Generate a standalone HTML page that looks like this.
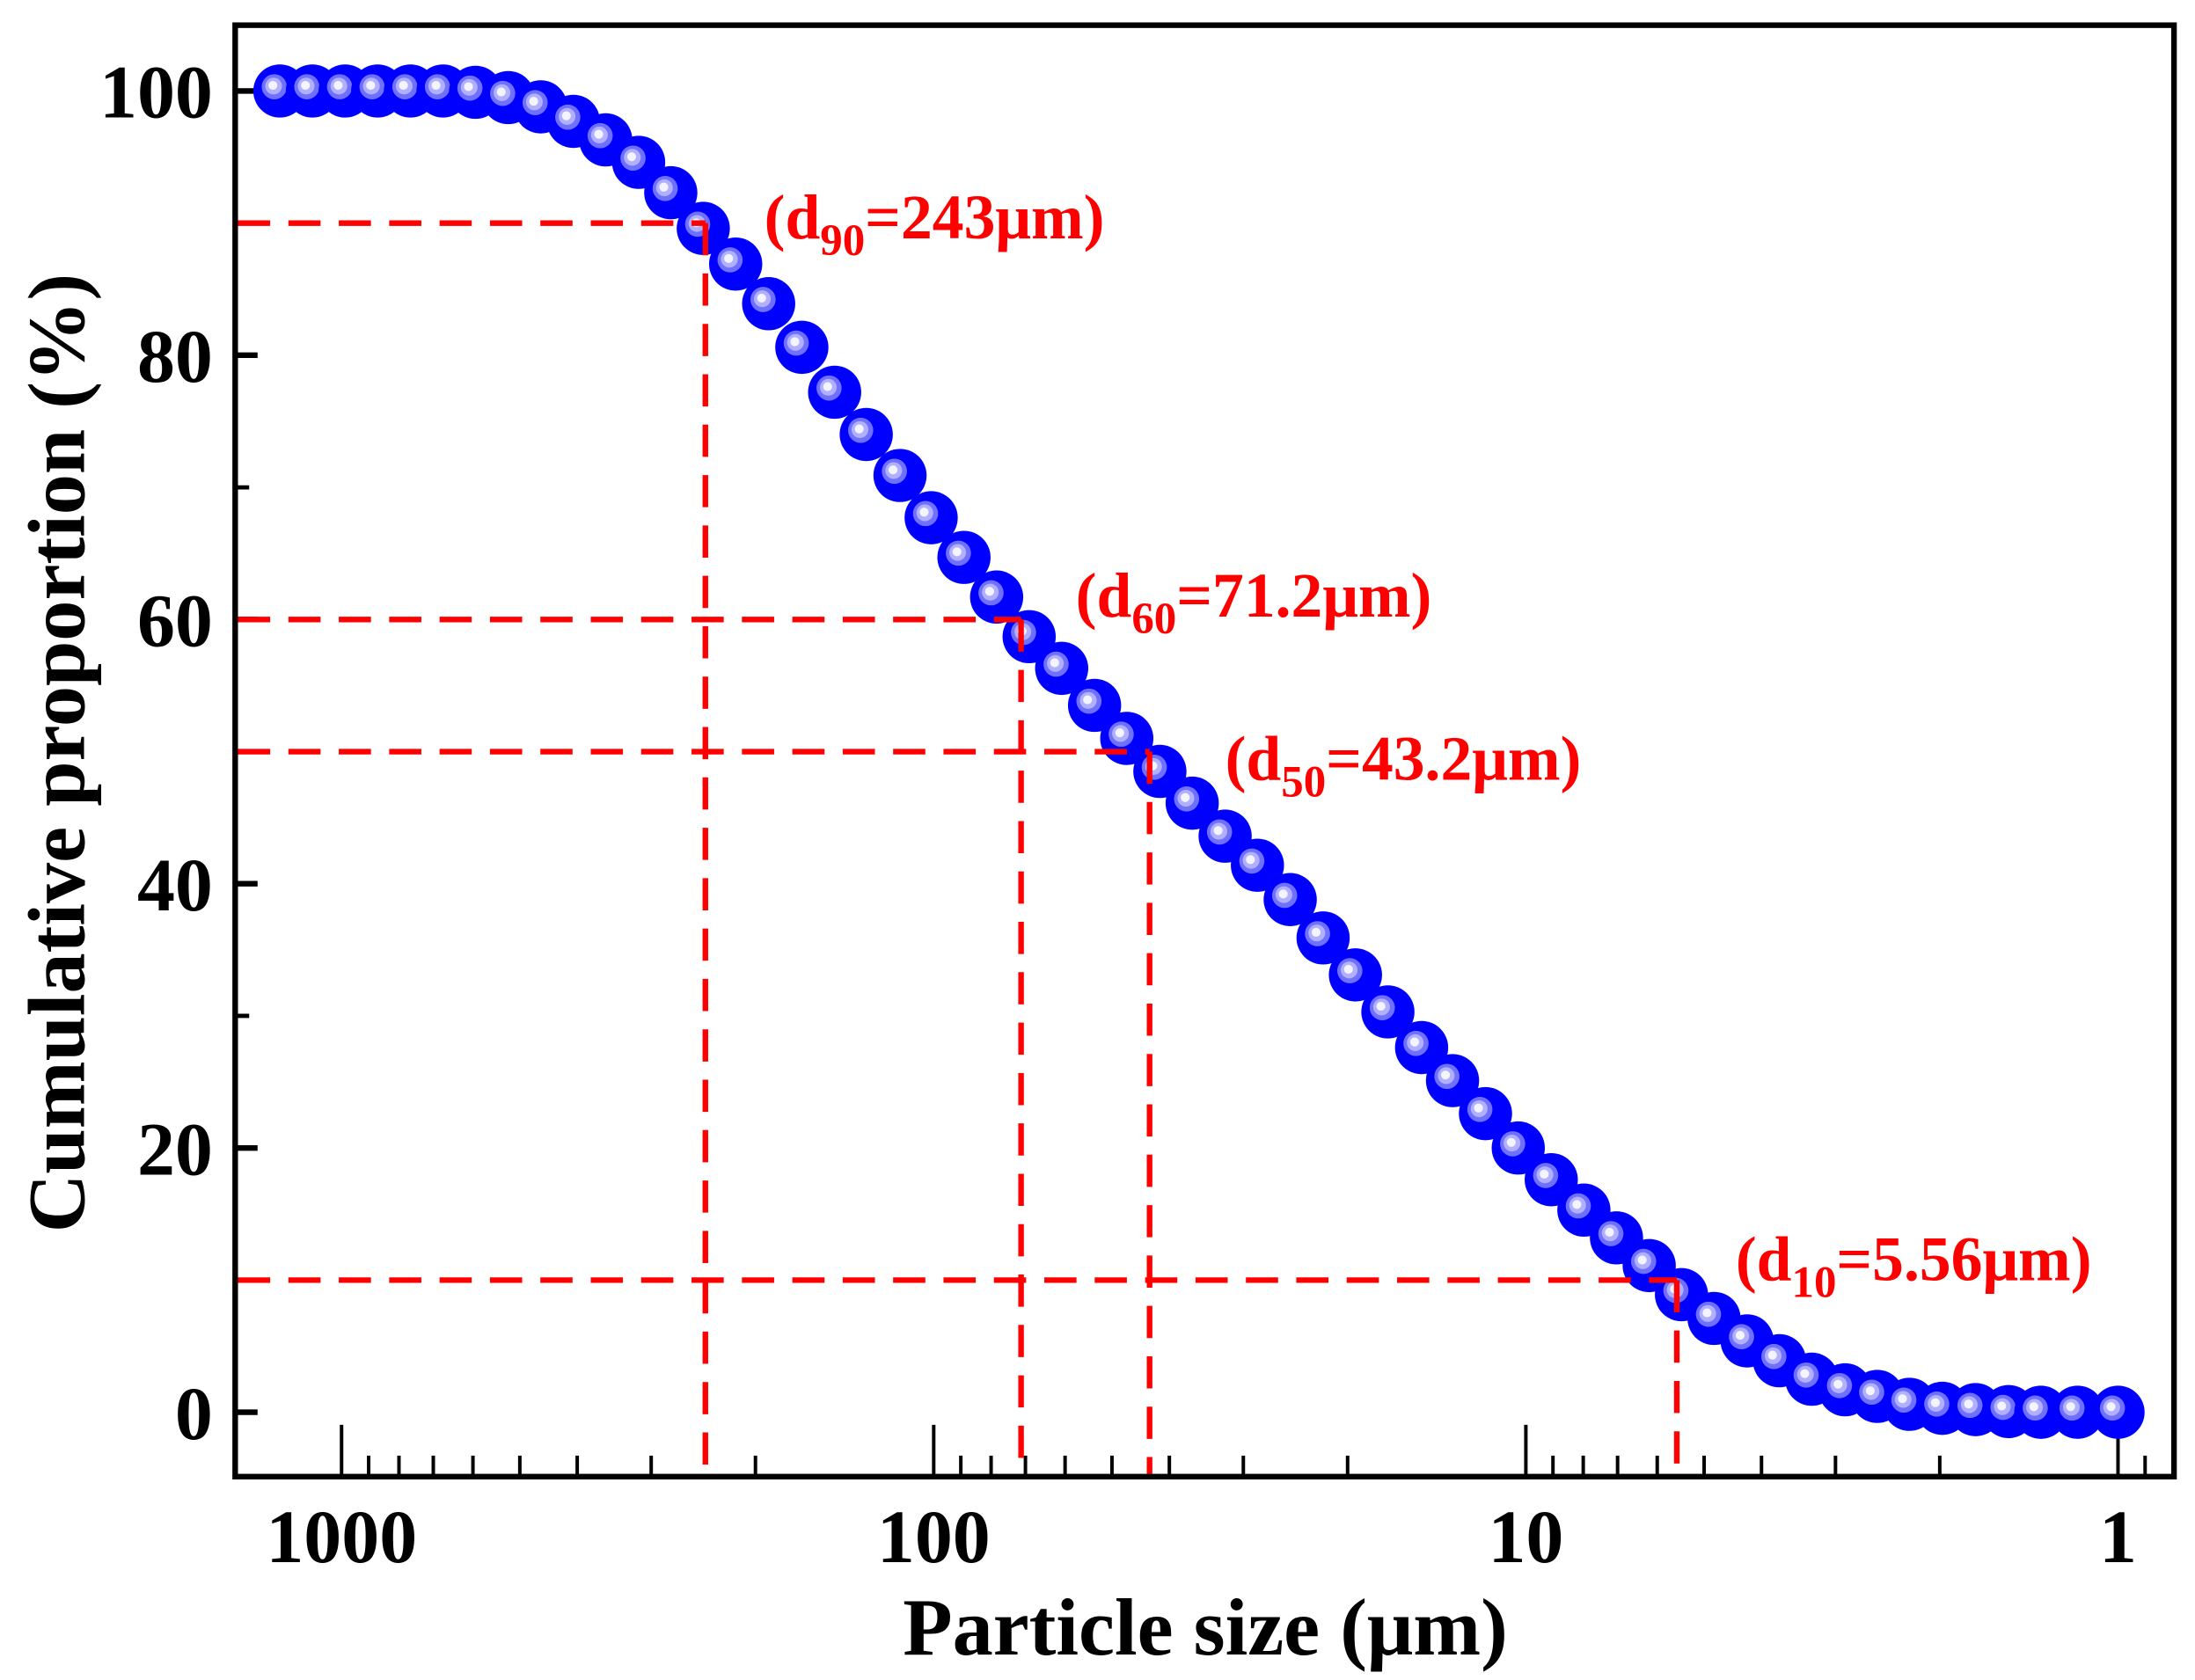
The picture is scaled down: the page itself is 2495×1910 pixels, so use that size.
<!DOCTYPE html>
<html><head><meta charset="utf-8"><style>
html,body{margin:0;padding:0;background:#fff;}
svg{display:block;font-family:"Liberation Serif",serif;font-weight:bold;}
</style></head><body>
<svg id="chart" width="2495" height="1910" viewBox="0 0 1568 1200.3" preserveAspectRatio="none" xmlns="http://www.w3.org/2000/svg">
<g id="ticks"></g>
<g id="points"></g>
<g id="refs"></g>
<rect x="168" y="18" width="1385" height="1037" fill="none" stroke="#000" stroke-width="4"/>
<g id="labels"></g>
<text x="861" y="1182" font-size="58" text-anchor="middle">Particle size (μm)</text>
<text transform="translate(60,538) rotate(-90)" font-size="58" text-anchor="middle">Cumulative proportion (%)</text>
</svg>
<script>
const sizes=[1271,1120,986,869,765,674,594,523,461,406,358,315,278,245,216,190,167,147,130,114,101,88.9,78.3,69.0,60.8,53.5,47.2,41.5,36.6,32.2,28.4,25.0,22.0,19.4,17.1,15.0,13.3,11.7,10.3,9.06,7.98,7.03,6.19,5.46,4.81,4.23,3.73,3.29,2.89,2.55,2.25,1.98,1.74,1.53,1.35,1.17,1.0];
const cumulative=[100,100,100,100,100,100,99.9,99.5,98.8,97.7,96.3,94.6,92.3,89.6,86.9,83.9,80.6,77.2,74.0,70.9,67.7,64.7,61.7,58.7,56.3,53.5,51.0,48.5,46.1,43.6,41.4,38.8,35.9,33.1,30.3,27.6,25.1,22.6,20.0,17.6,15.3,13.2,11.1,8.9,7.1,5.4,3.9,2.5,1.7,1.2,0.6,0.3,0.2,0.05,0,0,0];
const yTicks=[0,20,40,60,80,100];
const yMinor=[10,30,50,70,90];
const xTicks=[1000,100,10,1];
const xTickLabels=["1000","100","10","1"];
const refPct=[90,60,50,10];
const refSize=[243,71.2,43.2,5.56];
const refSub=["90","60","50","10"];
const refVal=["243μm","71.2μm","43.2μm","5.56μm"];
const labelDx=[42,39,54,42];
const labelDy=[11,-2,20,0];
const NS="http://www.w3.org/2000/svg";
const X=d=>1513-423*Math.log10(d);
const Y=v=>1009-9.44*v;
function mk(t,a,p){const e=document.createElementNS(NS,t);for(const k in a)e.setAttribute(k,a[k]);p.appendChild(e);return e;}
const tk=document.getElementById('ticks'),lb=document.getElementById('labels'),pts=document.getElementById('points'),refs=document.getElementById('refs');
yTicks.forEach(v=>{
  const l=mk('line',{x1:168,x2:184,y1:Y(v),y2:Y(v),stroke:'#000','stroke-width':4},tk);
  
  
  const t=mk('text',{x:152,y:Y(v)+19,'font-size':54,'text-anchor':'end'},lb);t.textContent=v;
  
  
});
yMinor.forEach(v=>{
  const l=mk('line',{x1:168,x2:178,y1:Y(v),y2:Y(v),stroke:'#000','stroke-width':3},tk);
  
  
});
xTicks.forEach((d,i)=>{
  const l=mk('line',{x1:X(d),x2:X(d),y1:1018,y2:1055,stroke:'#000','stroke-width':2.5},tk);
  
  
  const t=mk('text',{x:X(d),y:1116,'font-size':54,'text-anchor':'middle'},lb);t.textContent=xTickLabels[i];
  
  
});
[100,10,1,0.1].forEach(dec=>{for(let m=2;m<=9;m++){const d=dec*m;const x=X(d);if(x<170||x>1551)continue;
  const l=mk('line',{x1:x,x2:x,y1:1040,y2:1055,stroke:'#000','stroke-width':2.5},tk);
  
  
}});
sizes.forEach((d,i)=>{
  const g=mk('g',{},pts);
  
  
  const x=X(d),y=Y(cumulative[i]);
  mk('circle',{cx:x,cy:y,r:19,fill:'#0000ff'},g);
  mk('circle',{cx:x-4,cy:y-3,r:9,fill:'#7070ff'},g);
  mk('circle',{cx:x-4.5,cy:y-3.5,r:6,fill:'#b0b0ff'},g);
  mk('circle',{cx:x-5,cy:y-4,r:3.2,fill:'#f4f4ff'},g);
});
refPct.forEach((p,i)=>{
  const x=X(refSize[i]),y=Y(p);
  const h=mk('line',{x1:170,x2:x,y1:y,y2:y,stroke:'#ff0000','stroke-width':4,'stroke-dasharray':'23 13'},refs);
  
  
  const v=mk('line',{x1:x,x2:x,y1:y,y2:1053,stroke:'#ff0000','stroke-width':4,'stroke-dasharray':'23 13'},refs);
  
  
  const t=mk('text',{x:x+labelDx[i],y:y+labelDy[i],'font-size':45,fill:'#ff0000'},refs);
  
  
  const a=document.createElementNS(NS,'tspan');a.textContent='(d';t.appendChild(a);
  const b=mk('tspan',{dy:12,'font-size':32},t);b.textContent=refSub[i];
  const c=mk('tspan',{dy:-12},t);c.textContent='='+refVal[i]+')';
});
</script>
</body></html>
